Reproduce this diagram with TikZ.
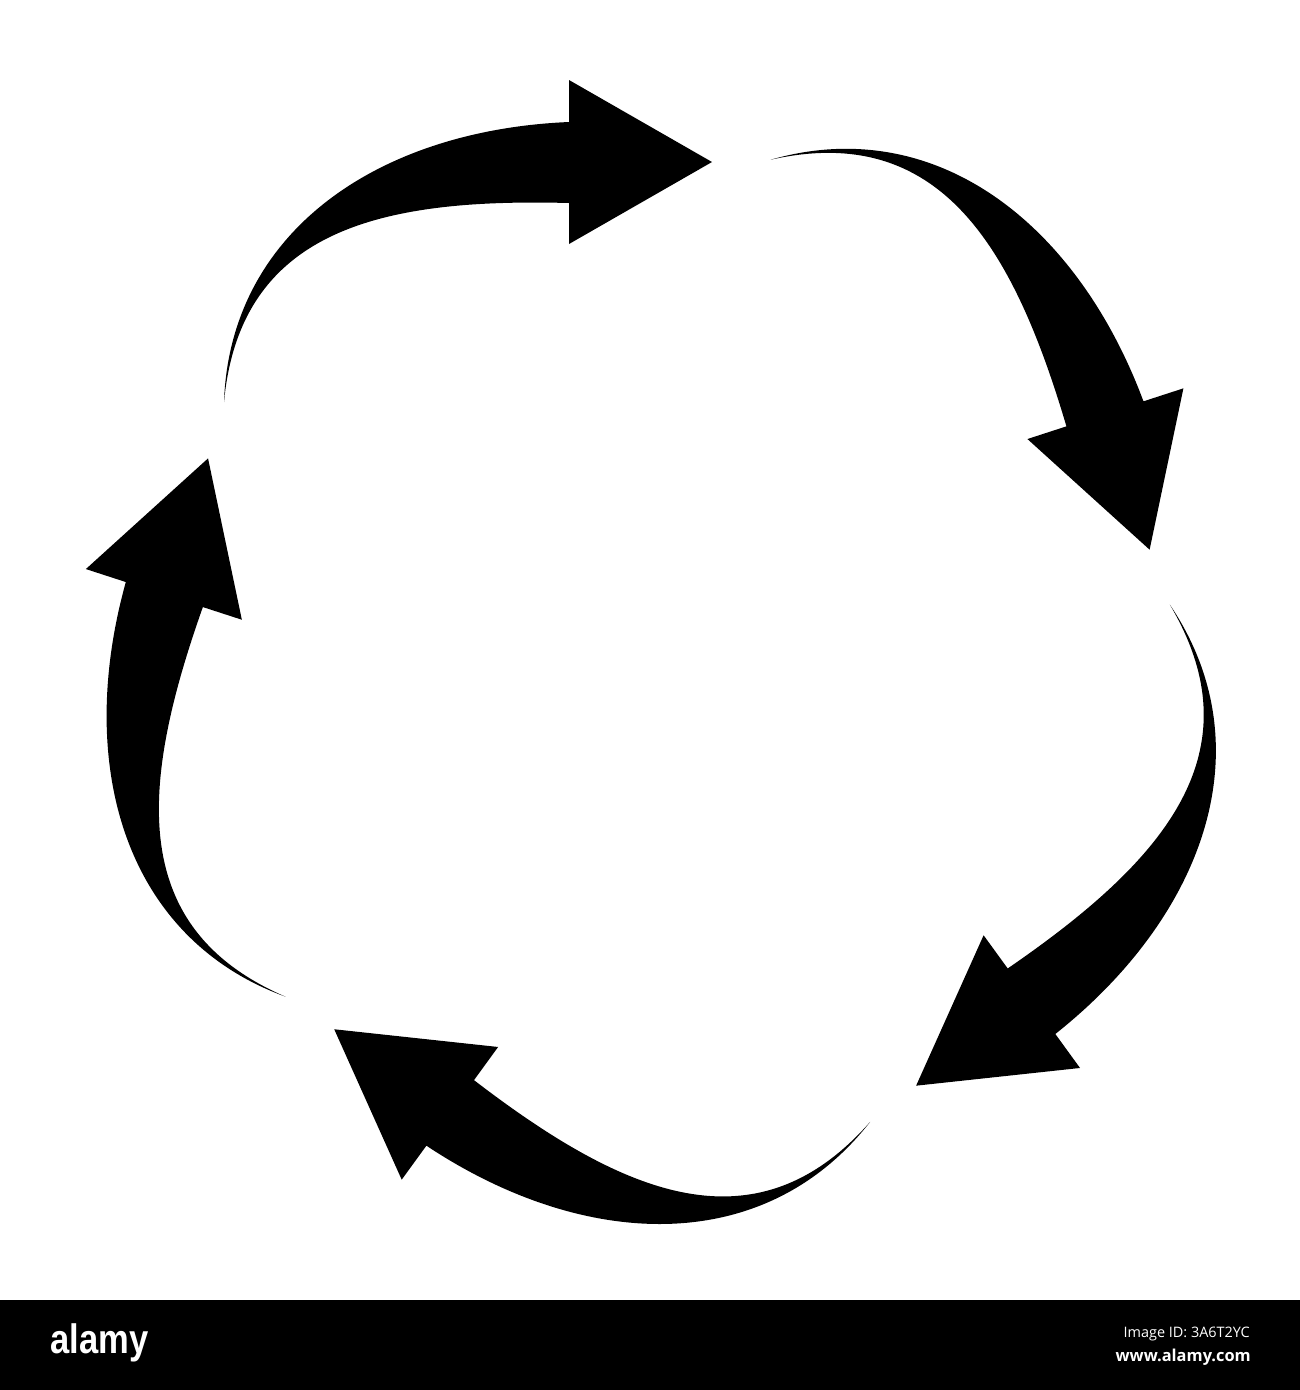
\documentclass[tikz,border=0pt]{standalone}
\usepackage{fontspec}
\usepackage{graphicx}
\usepackage{tikz}
\setsansfont{Liberation Sans}
\newfontfamily\idfont{Open Sans}
\tikzstyle{cyclearrow}=[fill=black, draw=none]
\tikzstyle{bar}=[fill=black, draw=none]
\tikzstyle{barlabel}=[text=white, inner sep=0pt, font=\sffamily]

\begin{document}
\begin{tikzpicture}[x=0.01cm, y=-0.01cm]
      \useasboundingbox[fill=white] (0,0) rectangle (1300,1390);
      % five arrows turned round the centre
      \coordinate (centre) at (664,657);
      \foreach \i in {0,...,4}
        \fill[cyclearrow, rotate around={-72*\i:(centre)}]
          (224,402) .. controls (230,230) and (380,130) .. (569,122)
          -- (569,80) -- (712,162) -- (569,244) -- (569,203)
          .. controls (380,198) and (240,230) .. (224,402) -- cycle;
      % bottom bar
      \fill[bar] (0,1300) rectangle (1300,1390);
      \node[barlabel, anchor=base west] (logo) at (50,1353)
        {\fontsize{11.7}{12}\selectfont\bfseries\scalebox{0.84}[1]{alamy}};
      \node[barlabel, anchor=base west] (imgid) at (1123,1337)
        {\idfont\resizebox{1.26cm}{!}{Image ID: 3A6T2YC}};
      \node[barlabel, anchor=base west] (site) at (1115,1361)
        {\idfont\bfseries\resizebox{1.35cm}{!}{www.alamy.com}};
\end{tikzpicture}
\end{document}
